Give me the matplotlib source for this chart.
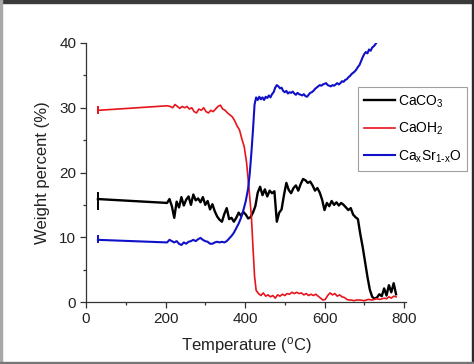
import numpy as np
import matplotlib
matplotlib.use('Agg')
import matplotlib.pyplot as plt
from matplotlib.ticker import MultipleLocator

plt.rcParams['font.family'] = ['Liberation Sans', 'DejaVu Sans']
plt.rcParams['mathtext.default'] = 'regular'

# CaCO3
t_caco3 = [30, 204, 210, 216, 222, 228, 234, 240, 246, 252, 258, 264, 270, 276, 282, 288, 294,
           300, 306, 312, 318, 324, 330, 336, 342, 348, 354, 360, 366, 372, 378, 384, 390, 396,
           402, 408, 414, 420, 426, 432, 438, 444, 450, 456, 462, 468, 474, 480, 486, 492, 498,
           504, 510, 516, 522, 528, 534, 540, 546, 552, 558, 564, 570, 576, 582, 588, 594, 600,
           606, 612, 618, 624, 630, 636, 642, 648, 654, 660, 666, 672, 678, 684, 690, 696, 702,
           708, 714, 720, 726, 732, 738, 744, 750, 756, 762, 768, 774, 780]
w_caco3 = [15.9, 15.3, 15.9, 14.8, 13.0, 15.5, 14.6, 16.2, 14.9, 15.8, 16.3, 15.0, 16.6, 15.7, 16.0, 15.4, 16.2,
           15.0, 15.6, 14.3, 15.1, 14.0, 13.2, 12.7, 12.4, 13.6, 14.5, 12.8, 13.0, 12.4, 13.0, 13.8, 13.3, 13.9,
           13.5, 12.9, 13.1, 13.8, 14.8, 16.9, 17.8, 16.5, 17.4, 16.3, 17.2, 16.8, 17.1, 12.4, 13.8, 14.3, 16.5,
           18.4, 17.3, 16.8, 17.6, 18.0, 17.2, 18.2, 19.0, 18.8, 18.4, 18.6, 18.0, 17.2, 17.6, 16.9, 15.8, 14.2,
           15.3, 14.8, 15.6, 15.0, 15.4, 14.9, 15.3, 15.0, 14.6, 14.2, 14.5, 13.5, 13.1, 12.8, 10.5, 8.5, 6.2,
           3.9, 1.9, 0.8, 0.5, 0.7, 1.2, 0.9, 2.1, 1.0, 2.6, 1.5, 2.9, 1.2]

# CaOH2
t_caoh2 = [30, 204, 212, 218, 224, 230, 236, 242, 248, 254, 260, 266, 272, 278, 284, 290, 296,
           302, 308, 314, 320, 326, 332, 338, 344, 350, 356, 362, 368, 374, 380, 386, 392, 398,
           404, 410, 416, 420, 424, 428, 434, 440, 446, 452, 458, 464, 470, 476, 482, 488, 494,
           500, 506, 512, 518, 524, 530, 536, 542, 548, 554, 560, 566, 572, 578, 584, 590, 596,
           602, 608, 614, 620, 626, 632, 638, 644, 650, 656, 662, 668, 674, 680, 690, 700, 710,
           720, 730, 740, 750, 756, 762, 768, 774, 780]
w_caoh2 = [29.6, 30.3, 30.2, 30.0, 30.5, 30.2, 29.9, 30.2, 30.0, 30.2, 29.8, 30.0, 29.4, 29.2, 29.8, 29.6, 30.0,
           29.4, 29.2, 29.6, 29.4, 29.8, 30.2, 30.4, 29.8, 29.6, 29.2, 28.9, 28.6, 28.0, 27.2, 26.6, 25.2, 24.0,
           21.5, 17.5, 13.3, 8.5, 4.0, 1.8, 1.3, 1.0, 1.4, 0.9, 1.1, 0.8, 1.0, 0.6, 1.1, 0.9, 1.2,
           1.0, 1.3, 1.2, 1.5, 1.3, 1.5, 1.3, 1.4, 1.1, 1.3, 1.0, 1.2, 1.0, 1.2, 0.9, 0.6, 0.3,
           0.4, 1.0, 1.4, 1.1, 1.3, 0.9, 1.1, 0.8, 0.7, 0.4, 0.3, 0.3, 0.2, 0.3, 0.3, 0.2, 0.4,
           0.3, 0.5, 0.4, 0.6, 0.5, 0.8, 0.6, 0.9, 0.8]

# CaxSr1-xO
t_casro = [30, 204, 210, 216, 222, 228, 234, 240, 246, 252, 258, 264, 270, 276, 282, 288, 294,
           300, 306, 312, 318, 324, 330, 336, 342, 348, 354, 360, 366, 372, 378, 384, 390, 396,
           402, 408, 412, 416, 420, 424, 428, 432, 436, 440, 444, 448, 452, 456, 460, 464, 468,
           472, 476, 480, 484, 488, 492, 496, 500, 504, 508, 512, 516, 520, 524, 528, 532, 536,
           540, 544, 548, 552, 556, 560, 564, 568, 572, 576, 580, 584, 588, 592, 596, 600, 604,
           608, 612, 616, 620, 624, 628, 632, 636, 640, 644, 648, 652, 656, 660, 664, 668, 672,
           676, 680, 684, 688, 692, 696, 700, 704, 708, 712, 716, 720, 724, 728, 730]
w_casro = [9.6, 9.2, 9.6, 9.4, 9.2, 9.4, 9.0, 8.8, 9.2, 9.0, 9.3, 9.4, 9.6, 9.4, 9.7, 9.9, 9.6,
           9.4, 9.3, 9.0, 9.0, 9.2, 9.3, 9.2, 9.3, 9.2, 9.4, 9.8, 10.2, 10.7, 11.4, 12.1, 13.0, 14.2,
           15.6, 17.6, 19.9, 23.0, 26.5, 30.5, 31.6, 31.2, 31.7, 31.3, 31.6, 31.2, 31.7, 31.5, 31.9, 31.6, 32.1,
           32.4, 33.1, 33.5, 33.3, 33.0, 33.1, 32.6, 32.4, 32.6, 32.2, 32.4, 32.3, 32.5, 32.2, 32.0, 32.3, 32.1,
           32.0, 31.9, 32.1, 31.8, 31.7, 32.0, 32.3, 32.4, 32.6, 32.9, 33.1, 33.3, 33.5, 33.4, 33.6, 33.7, 33.8,
           33.5, 33.4, 33.3, 33.5, 33.4, 33.6, 33.8, 33.6, 33.8, 34.1, 34.0, 34.3, 34.4, 34.7, 34.9, 35.2, 35.4,
           35.6, 35.9, 36.3, 36.6, 37.2, 37.8, 38.3, 38.6, 38.4, 39.0, 38.8, 39.3, 39.5, 39.8, 40.0]

# short vertical bars at the first point of each curve
bar_t = [30, 30, 30]
bar_low = [14.2, 29.0, 9.1]
bar_high = [17.0, 30.3, 10.3]

labels = [r'CaCO$_3$', r'CaOH$_2$', r'Ca$_x$Sr$_{1\text{-}x}$O']
colors = ['black', '#e8141b', '#1010c8']

fig = plt.figure(figsize=(4.74, 3.64), dpi=100)
ax = fig.add_axes([86/474, 1 - 302/364, 320/474, 259/364])

ax.plot(t_caco3, w_caco3, color=colors[0], lw=1.7, label=labels[0])
ax.plot(t_caoh2, w_caoh2, color=colors[1], lw=1.2, label=labels[1])
ax.plot(t_casro, w_casro, color=colors[2], lw=1.5, label=labels[2])
ax.vlines(bar_t, bar_low, bar_high, colors=colors, lw=1.4)

ax.set_xlim(0, 805)
ax.set_ylim(0, 40)
ax.set_xticks([0, 200, 400, 600, 800])
ax.set_yticks([0, 10, 20, 30, 40])
ax.xaxis.set_minor_locator(MultipleLocator(100))
ax.yaxis.set_minor_locator(MultipleLocator(5))
ax.spines['top'].set_visible(False)
ax.spines['right'].set_visible(False)
for s in ['left', 'bottom']:
    ax.spines[s].set_color('#333333')
    ax.spines[s].set_linewidth(0.9)
ax.tick_params(which='major', length=4.5, width=0.9, colors='#333333', labelsize=11,
               labelcolor='#222222', pad=2.5)
ax.tick_params(which='minor', length=2.5, width=0.9, colors='#333333')

ax.set_xlabel(r'Temperature ($^{o}$C)', fontsize=12, color='#222222', labelpad=7)
ax.set_ylabel('Weight percent (%)', fontsize=12, color='#222222', labelpad=7)

leg = ax.legend(loc='upper left', bbox_to_anchor=(358/474, 1 - 87/364),
                bbox_transform=fig.transFigure, fontsize=10, frameon=True,
                fancybox=False, edgecolor='#888888', handlelength=2.2,
                labelspacing=0.8, borderpad=0.45, handletextpad=0.2,
                borderaxespad=0)
leg.get_frame().set_linewidth(0.8)

# picture frame
fig.patches.append(plt.Rectangle((0, 1 - 3/364), 1, 3/364, transform=fig.transFigure,
                                 color='#3a3a3a', zorder=10))
fig.patches.append(plt.Rectangle((0, 0), 2/474, 1, transform=fig.transFigure,
                                 color='#a8a8a8', zorder=10))
fig.patches.append(plt.Rectangle((1 - 2/474, 0), 2/474, 1, transform=fig.transFigure,
                                 color='#2a2a2a', zorder=10))
fig.patches.append(plt.Rectangle((0, 0), 1, 2/364, transform=fig.transFigure,
                                 color='#777777', zorder=10))

fig.savefig('out.png', dpi=100)
